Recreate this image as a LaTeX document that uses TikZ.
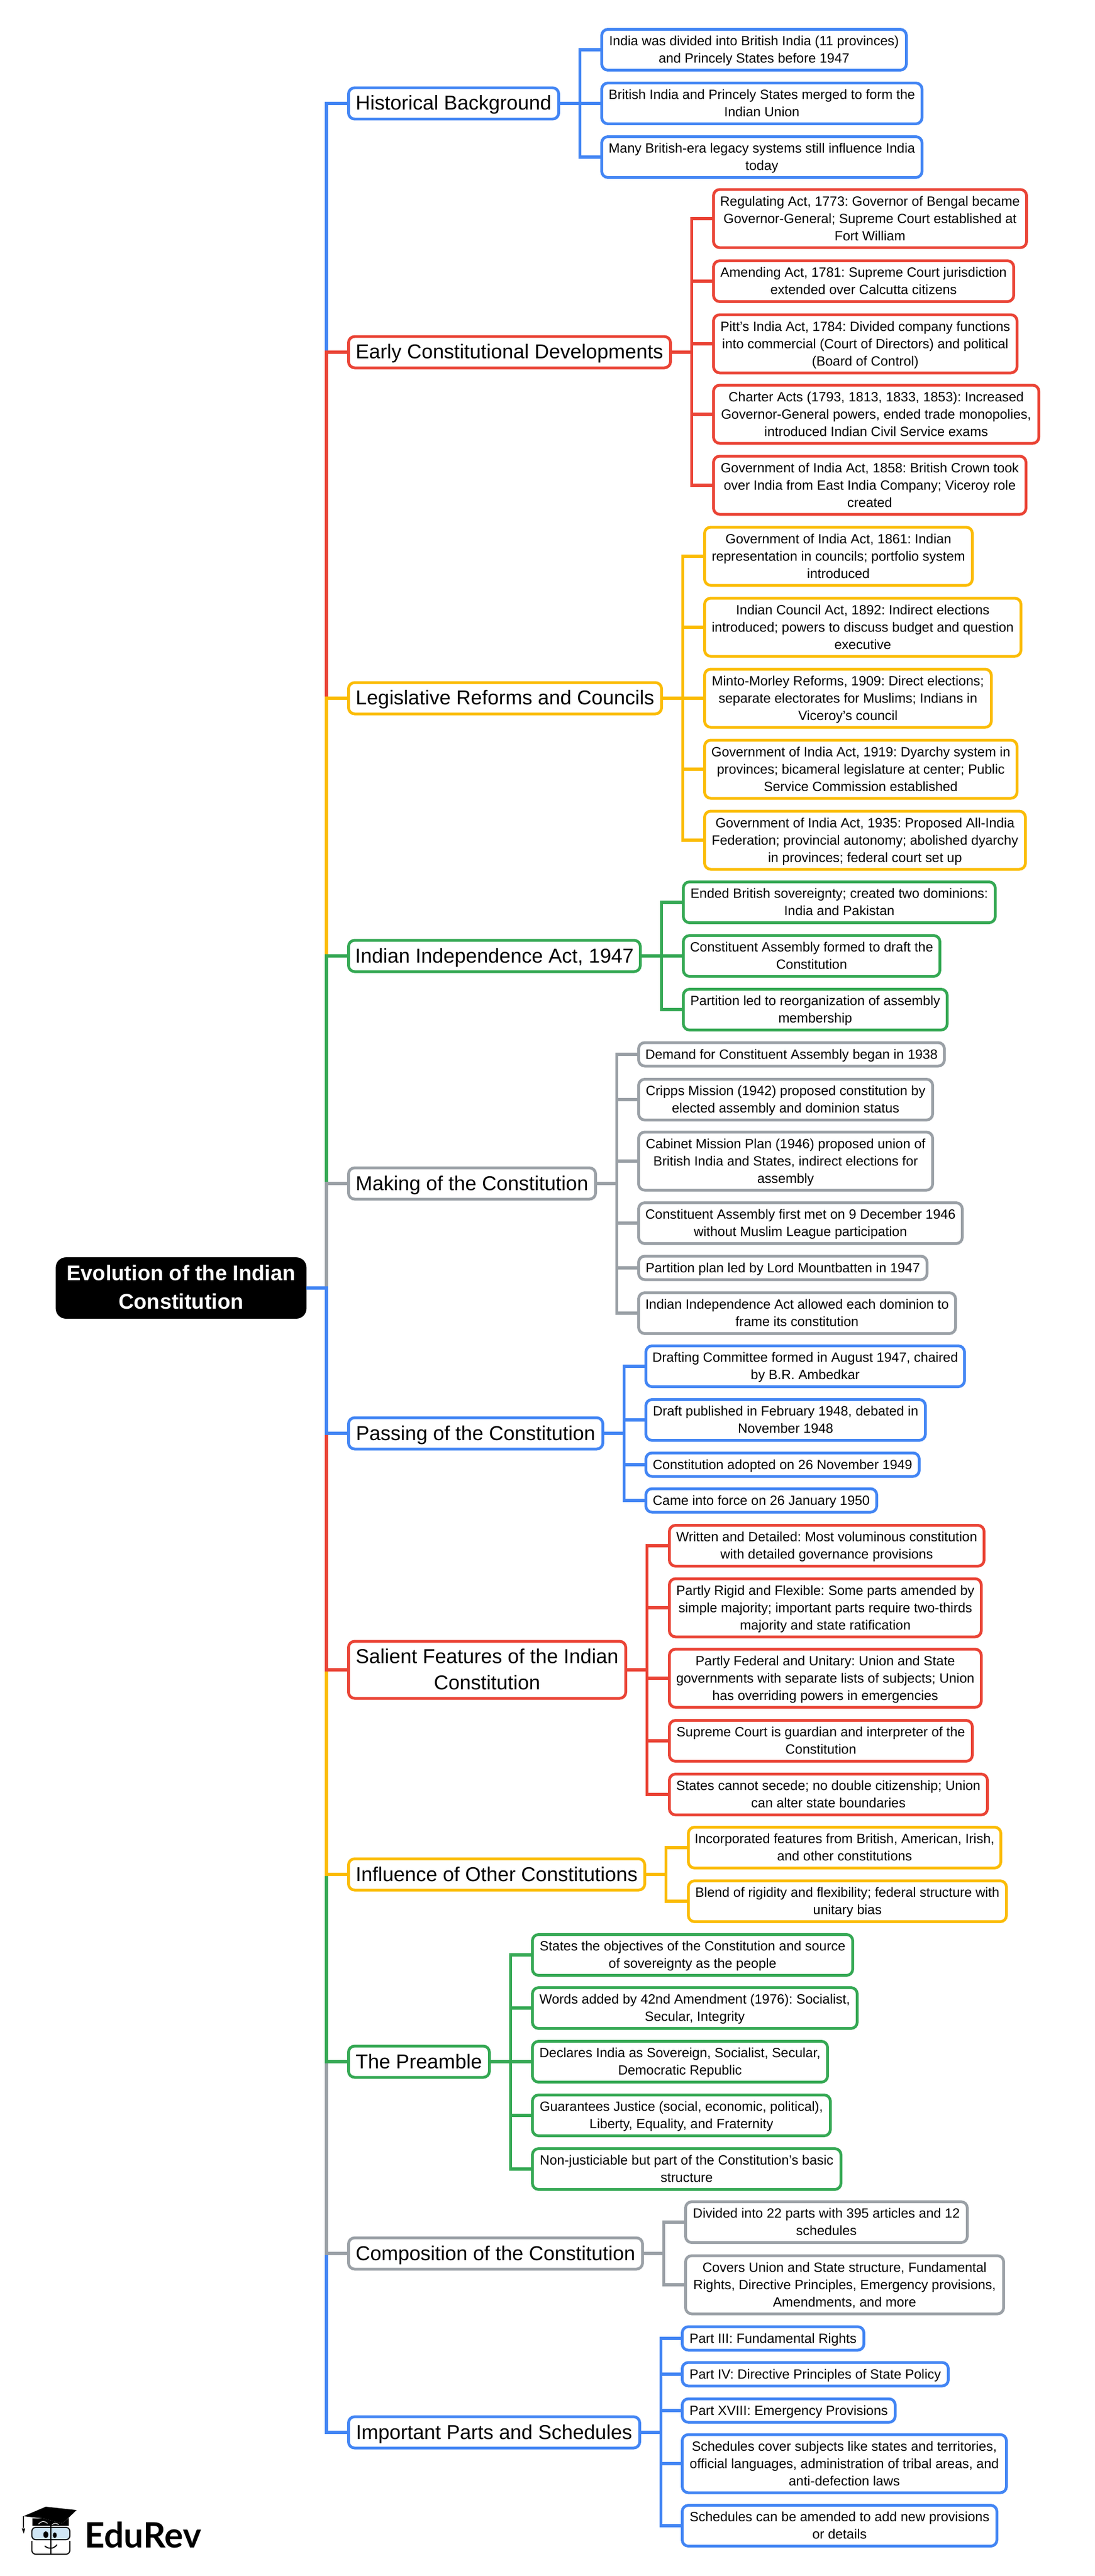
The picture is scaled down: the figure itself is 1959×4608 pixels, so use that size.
\documentclass[tikz,border=0pt]{standalone}
\usepackage{fontspec}
\setmainfont{Liberation Sans}
\newfontfamily\logofont{Lato}
\frenchspacing
\definecolor{gblue}{HTML}{4285F4}
\definecolor{gred}{HTML}{EA4335}
\definecolor{gyellow}{HTML}{FBBC04}
\definecolor{ggreen}{HTML}{34A853}
\definecolor{ggray}{HTML}{9AA0A6}
\definecolor{glass}{HTML}{CFE6F5}
\tikzset{
  basebox/.style={rectangle,rounded corners=0.55cm,line width=7.1pt,outer sep=0pt,inner sep=0pt,align=center,text=black},
  leaf/.style={basebox,font=\fontsize{34.14}{44.1}\selectfont},
  topic/.style={basebox,font=\fontsize{51.2}{66.2}\selectfont},
  rootbox/.style={rectangle,rounded corners=0.9cm,fill=black,draw=black,line width=1pt,outer sep=0pt,inner sep=0pt,align=center,text=white,
    font=\fontsize{54}{72.5}\selectfont\bfseries,minimum width=22.4cm,minimum height=5.45cm},
  conn/.style={line width=7.8pt,line join=miter},
  trunklink/.style={line width=7.8pt,line join=miter},
  logoline/.style={line width=2.8pt,black}
}
\newcommand\leaftop{\rule{0pt}{31.3pt}}
\newcommand\leafbot{\rule[-8pt]{0pt}{8pt}}
\newcommand\topictop{\rule{0pt}{45.5pt}}
\newcommand\topicbot{\rule[-11.4pt]{0pt}{11.4pt}}
% style, colour, name, x0, x1, cy, h, text
\newcommand\bx[8]{%
  \pgfmathsetmacro\bxw{(#5-#4+3-5)*0.05}%
  \pgfmathsetmacro\bxh{(#7+2-5)*0.05}%
  \pgfmathsetmacro\bxc{(#4+#5+1)/2}%
  \node[#1,draw=#2,minimum width=\bxw cm,minimum height=\bxh cm] (#3) at (\bxc,#6) {\csname #1top\endcsname #8\csname #1bot\endcsname};%
}
\newcommand\trunk[2]{\draw[trunklink,#1] (root.east) -- (root.east -| tr) |- (#2.west);}
\newcommand\branch[3]{\foreach \kid in {#3} {\draw[conn,#1] (#2.east) -- ++(38,0) |- (\kid.west);}}
\begin{document}
\begin{tikzpicture}[x=0.05cm,y=-0.05cm]
\useasboundingbox (0,0) rectangle (1959,4608);
\fill[white] (0,0) rectangle (1959,4608);
\coordinate (tr) at (584,0);
\node[rootbox] (root) at (324,2304) {\topictop Evolution of the Indian\\Constitution\rule[-12.8pt]{0pt}{12.8pt}};

\bx{topic}{gblue}{hb}{622}{1000}{185}{59}{Historical Background}
\bx{leaf}{gblue}{hba}{1075}{1622}{89}{76}{India was divided into British India (11 provinces)\\and Princely States before 1947}
\bx{leaf}{gblue}{hbb}{1075}{1650}{185}{76}{British India and Princely States merged to form the\\Indian Union}
\bx{leaf}{gblue}{hbc}{1075}{1650}{281}{76}{Many British-era legacy systems still influence India\\today}

\bx{topic}{gred}{ec}{622}{1200}{630}{59}{Early Constitutional Developments}
\bx{leaf}{gred}{eca}{1275}{1837}{391}{107}{Regulating Act, 1773: Governor of Bengal became\\Governor-General; Supreme Court established at\\Fort William}
\bx{leaf}{gred}{ecb}{1275}{1814}{503}{76}{Amending Act, 1781: Supreme Court jurisdiction\\extended over Calcutta citizens}
\bx{leaf}{gred}{ecc}{1275}{1820}{615}{107}{Pitt's India Act, 1784: Divided company functions\\into commercial (Court of Directors) and political\\(Board of Control)}
\bx{leaf}{gred}{ecd}{1275}{1859}{741}{107}{Charter Acts (1793, 1813, 1833, 1853): Increased\\Governor-General powers, ended trade monopolies,\\introduced Indian Civil Service exams}
\bx{leaf}{gred}{ece}{1275}{1836}{868}{107}{Government of India Act, 1858: British Crown took\\over India from East India Company; Viceroy role\\created}

\bx{topic}{gyellow}{lr}{622}{1184}{1249}{59}{Legislative Reforms and Councils}
\bx{leaf}{gyellow}{lra}{1259}{1740}{995}{107}{Government of India Act, 1861: Indian\\representation in councils; portfolio system\\introduced}
\bx{leaf}{gyellow}{lrb}{1259}{1827}{1122}{107}{Indian Council Act, 1892: Indirect elections\\introduced; powers to discuss budget and question\\executive}
\bx{leaf}{gyellow}{lrc}{1259}{1774}{1249}{107}{Minto-Morley Reforms, 1909: Direct elections;\\separate electorates for Muslims; Indians in\\Viceroy’s council}
\bx{leaf}{gyellow}{lrd}{1259}{1820}{1376}{107}{Government of India Act, 1919: Dyarchy system in\\provinces; bicameral legislature at center; Public\\Service Commission established}
\bx{leaf}{gyellow}{lre}{1259}{1835}{1503}{107}{Government of India Act, 1935: Proposed All-India\\Federation; provincial autonomy; abolished dyarchy\\in provinces; federal court set up}

\bx{topic}{ggreen}{ia}{622}{1146}{1710}{59}{Indian Independence Act, 1947}
\bx{leaf}{ggreen}{iaa}{1221}{1781}{1614}{76}{Ended British sovereignty; created two dominions:\\India and Pakistan}
\bx{leaf}{ggreen}{iab}{1221}{1682}{1710}{76}{Constituent Assembly formed to draft the\\Constitution}
\bx{leaf}{ggreen}{iac}{1221}{1695}{1806}{76}{Partition led to reorganization of assembly\\membership}

\bx{topic}{ggray}{mc}{622}{1066}{2117}{59}{Making of the Constitution}
\bx{leaf}{ggray}{mca}{1141}{1690}{1886}{45}{Demand for Constituent Assembly began in 1938}
\bx{leaf}{ggray}{mcb}{1141}{1669}{1967}{76}{Cripps Mission (1942) proposed constitution by\\elected assembly and dominion status}
\bx{leaf}{ggray}{mcc}{1141}{1669}{2077}{107}{Cabinet Mission Plan (1946) proposed union of\\British India and States, indirect elections for\\assembly}
\bx{leaf}{ggray}{mcd}{1141}{1722}{2188}{76}{Constituent Assembly first met on 9 December 1946\\without Muslim League participation}
\bx{leaf}{ggray}{mce}{1141}{1659}{2268}{45}{Partition plan led by Lord Mountbatten in 1947}
\bx{leaf}{ggray}{mcf}{1141}{1710}{2349}{76}{Indian Independence Act allowed each dominion to\\frame its constitution}

\bx{topic}{gblue}{pc}{622}{1079}{2564}{59}{Passing of the Constitution}
\bx{leaf}{gblue}{pca}{1154}{1726}{2444}{76}{Drafting Committee formed in August 1947, chaired\\by B.R. Ambedkar}
\bx{leaf}{gblue}{pcb}{1154}{1656}{2540}{76}{Draft published in February 1948, debated in\\November 1948}
\bx{leaf}{gblue}{pcc}{1154}{1645}{2620}{45}{Constitution adopted on 26 November 1949}
\bx{leaf}{gblue}{pcd}{1154}{1569}{2684}{45}{Came into force on 26 January 1950}

\bx{topic}{gred}{sf}{622}{1120}{2987}{105}{Salient Features of the Indian\\Constitution}
\bx{leaf}{gred}{sfa}{1196}{1761}{2765}{76}{Written and Detailed: Most voluminous constitution\\with detailed governance provisions}
\bx{leaf}{gred}{sfb}{1196}{1756}{2876}{107}{Partly Rigid and Flexible: Some parts amended by\\simple majority; important parts require two-thirds\\majority and state ratification}
\bx{leaf}{gred}{sfc}{1196}{1756}{3002}{107}{Partly Federal and Unitary: Union and State\\governments with separate lists of subjects; Union\\has overriding powers in emergencies}
\bx{leaf}{gred}{sfd}{1196}{1740}{3114}{76}{Supreme Court is guardian and interpreter of the\\Constitution}
\bx{leaf}{gred}{sfe}{1196}{1767}{3210}{76}{States cannot secede; no double citizenship; Union\\can alter state boundaries}

\bx{topic}{gyellow}{io}{622}{1154}{3353}{59}{Influence of Other Constitutions}
\bx{leaf}{gyellow}{ioa}{1230}{1791}{3305}{76}{Incorporated features from British, American, Irish,\\and other constitutions}
\bx{leaf}{gyellow}{iob}{1230}{1801}{3401}{76}{Blend of rigidity and flexibility; federal structure with\\unitary bias}

\bx{topic}{ggreen}{tp}{622}{876}{3688}{59}{The Preamble}
\bx{leaf}{ggreen}{tpa}{951}{1526}{3497}{76}{States the objectives of the Constitution and source\\of sovereignty as the people}
\bx{leaf}{ggreen}{tpb}{951}{1534}{3592}{76}{Words added by 42nd Amendment (1976): Socialist,\\Secular, Integrity}
\bx{leaf}{ggreen}{tpc}{951}{1481}{3688}{76}{Declares India as Sovereign, Socialist, Secular,\\Democratic Republic}
\bx{leaf}{ggreen}{tpd}{951}{1486}{3784}{76}{Guarantees Justice (social, economic, political),\\Liberty, Equality, and Fraternity}
\bx{leaf}{ggreen}{tpe}{951}{1505}{3880}{76}{Non-justiciable but part of the Constitution’s basic\\structure}

\bx{topic}{ggray}{co}{622}{1150}{4031}{59}{Composition of the Constitution}
\bx{leaf}{ggray}{coa}{1225}{1731}{3975}{76}{Divided into 22 parts with 395 articles and 12\\schedules}
\bx{leaf}{ggray}{cob}{1225}{1796}{4087}{107}{Covers Union and State structure, Fundamental\\Rights, Directive Principles, Emergency provisions,\\Amendments, and more}

\bx{topic}{gblue}{ip}{622}{1145}{4351}{59}{Important Parts and Schedules}
\bx{leaf}{gblue}{ipa}{1219}{1546}{4183}{45}{Part III: Fundamental Rights}
\bx{leaf}{gblue}{ipb}{1219}{1697}{4247}{45}{Part IV: Directive Principles of State Policy}
\bx{leaf}{gblue}{ipc}{1219}{1602}{4312}{45}{Part XVIII: Emergency Provisions}
\bx{leaf}{gblue}{ipd}{1219}{1801}{4407}{107}{Schedules cover subjects like states and territories,\\official languages, administration of tribal areas, and\\anti-defection laws}
\bx{leaf}{gblue}{ipe}{1219}{1784}{4518}{76}{Schedules can be amended to add new provisions\\or details}

% main trunk: nearest branch is painted last
\trunk{gblue}{hb}
\trunk{gred}{ec}
\trunk{gyellow}{lr}
\trunk{ggreen}{ia}
\trunk{ggray}{mc}
\trunk{gblue}{ip}
\trunk{ggray}{co}
\trunk{ggreen}{tp}
\trunk{gyellow}{io}
\trunk{gred}{sf}
\trunk{gblue}{pc}

\branch{gblue}{hb}{hba,hbb,hbc}
\branch{gred}{ec}{eca,ecb,ecc,ecd,ece}
\branch{gyellow}{lr}{lra,lrb,lrc,lrd,lre}
\branch{ggreen}{ia}{iaa,iab,iac}
\branch{ggray}{mc}{mca,mcb,mcc,mcd,mce,mcf}
\branch{gblue}{pc}{pca,pcb,pcc,pcd}
\branch{gred}{sf}{sfa,sfb,sfc,sfd,sfe}
\branch{gyellow}{io}{ioa,iob}
\branch{ggreen}{tp}{tpa,tpb,tpc,tpd,tpe}
\branch{ggray}{co}{coa,cob}
\branch{gblue}{ip}{ipa,ipb,ipc,ipd,ipe}

% logo
\fill[black] (42,4501) -- (82,4484) -- (137,4490) -- (112,4514) -- (77,4505) -- cycle;
\fill[black] (58,4505) -- (58,4518) -- (123,4518) -- (123,4504) -- (112,4514) -- (77,4505) -- cycle;
\draw[white,line width=1.6pt] (69,4515) .. controls (74,4509) and (80,4509) .. (85,4514);
\draw[white,line width=1.6pt] (93,4516) .. controls (97,4513) and (101,4513) .. (105,4516);
\draw[logoline] (42,4501) -- (42,4522);
\fill[black] (39,4523) -- (45,4523) -- (42.5,4532) -- cycle;
\draw[logoline,fill=glass,rounded corners=0.35cm] (57,4521) rectangle (125,4543);
\draw[logoline,rounded corners=0.35cm] (57,4545) -- (57,4569) -- (125,4569) -- (125,4545);
\draw[logoline] (91,4518) -- (91,4570);
\fill[black] (82,4534) ellipse [x radius=4.5,y radius=6];
\fill[black] (98,4535) ellipse [x radius=3.5,y radius=5];
\draw[logoline] (80,4554) .. controls (86,4560) and (96,4560) .. (102,4552);
\node[anchor=base west,inner sep=0pt,font=\fontsize{89}{100}\logofont\bfseries] (brand) at (151,4557) {EduRev};
\end{tikzpicture}
\end{document}
